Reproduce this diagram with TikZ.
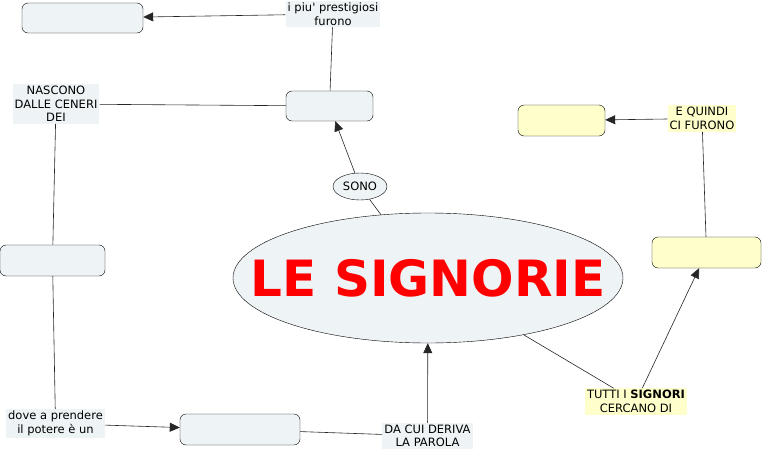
\documentclass[tikz,border=0pt]{standalone}
\usepackage{fontspec}
\setmainfont{DejaVu Sans}
\usepackage{xcolor}
\usetikzlibrary{arrows.meta,shapes.geometric}

\definecolor{conceptblue}{RGB}{238,243,246}
\definecolor{conceptyellow}{RGB}{255,255,204}

\begin{document}
\begin{tikzpicture}[x=1pt,y=-1pt,
    concept/.style={draw, rounded corners=6pt, fill=conceptblue, inner sep=0pt},
    yconcept/.style={concept, fill=conceptyellow},
    linklabel/.style={fill=conceptblue, inner sep=2pt, align=center, font=\fontsize{11.5}{13.5}\selectfont},
    ylinklabel/.style={linklabel, fill=conceptyellow},
    conn/.style={draw=black!85, semithick},
    arr/.style={conn, -{Triangle[length=10pt,width=9pt]}}]
    \useasboundingbox (0,0) rectangle (764,450);

    % main concept
    \node[ellipse, draw, fill=conceptblue, minimum width=390pt, minimum height=130pt, inner sep=0pt,
          text=red, font=\bfseries\fontsize{50}{54}\selectfont] (signorie) at (428,278) {\makebox[0pt]{LE SIGNORIE}};

    % concept boxes
    \node[concept, minimum width=121pt, minimum height=30pt] (top) at (82.5,18) {};
    \node[concept, minimum width=87pt, minimum height=30pt] (sono box) at (329.5,106) {};
    \node[concept, minimum width=105pt, minimum height=31pt] (left) at (52.5,260.5) {};
    \node[concept, minimum width=120pt, minimum height=31pt] (bottom) at (240,429.5) {};
    \node[yconcept, minimum width=87pt, minimum height=31pt] (quindi box) at (561.5,120.5) {};
    \node[yconcept, minimum width=109pt, minimum height=31pt] (cercano box) at (706.5,252.5) {};

    % linking phrases
    \node[linklabel] (prestigiosi) at (333,14) {i piu\textquotesingle{} prestigiosi\\furono};
    \node[linklabel] (nascono) at (56,104) {NASCONO\\DALLE CENERI\\DEI};
    \node[linklabel] (dove) at (55.5,423.5) {dove a prendere\\il potere è un};
    \node[linklabel] (deriva) at (427.5,436) {DA CUI DERIVA\\LA PAROLA};
    \node[ellipse, draw, fill=conceptblue, minimum width=54pt, minimum height=27pt, inner sep=0pt,
          font=\fontsize{11.5}{13.5}\selectfont] (sono) at (360,186.5) {SONO};
    \node[ylinklabel] (quindi) at (702,118.5) {E QUINDI\\CI FURONO};
    \node[ylinklabel] (tutti) at (636,401.5) {TUTTI I \textbf{SIGNORI}\\CERCANO DI};

    % connectors
    \draw[conn] (signorie) -- (sono);
    \draw[arr] (sono) -- (sono box);
    \draw[conn] (sono box) -- (prestigiosi);
    \draw[arr] (prestigiosi) -- (top);
    \draw[conn] (sono box) -- (nascono);
    \draw[conn] (nascono) -- (left);
    \draw[conn] (left) -- (dove);
    \draw[arr] (dove) -- (bottom);
    \draw[conn] (bottom) -- (deriva);
    \draw[arr] (deriva) -- (signorie);
    \draw[conn] (signorie) -- (tutti);
    \draw[arr] (tutti) -- (cercano box);
    \draw[conn] (cercano box) -- (quindi);
    \draw[arr] (quindi) -- (quindi box);
\end{tikzpicture}
\end{document}
